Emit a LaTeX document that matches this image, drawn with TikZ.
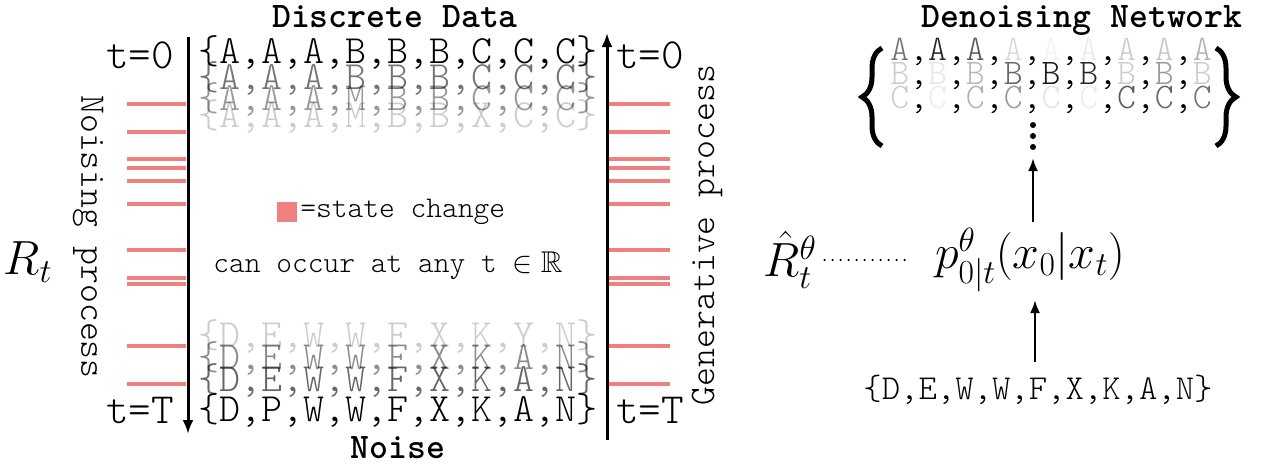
\RequirePackage{fix-cm}
\documentclass[tikz,border=0pt]{standalone}
\usepackage{amsmath}
\usepackage{amsfonts}
\usepackage{amssymb}
\usepackage{xcolor}
\usepackage{fontspec}
\usepackage{tikz}
\usetikzlibrary{positioning,arrows.meta,decorations.pathreplacing}
\newfontfamily\monolight{lmmonolt10-regular.otf}
\newfontfamily\monobold{lmmonolt10-bold.otf}
\definecolor{changecol}{HTML}{F08080}
\newcommand{\tone}[2]{\textcolor{black!#1}{#2}}
\tikzset{
    title/.style={font=\monobold\fontsize{36}{36}\selectfont, inner sep=0pt},
    setrow/.style={font=\monolight\fontsize{40}{40}\selectfont, inner sep=0pt},
    tlabel/.style={font=\monolight\fontsize{43}{43}\selectfont, inner sep=0pt},
    side/.style={font=\monolight\fontsize{36}{36}\selectfont, inner sep=0pt},
    note/.style={font=\monolight\fontsize{30}{30}\selectfont, inner sep=0pt},
    netrow/.style={font=\monolight\fontsize{36}{36}\selectfont, inner sep=0pt},
    bigmath/.style={font=\fontsize{48}{48}\selectfont, inner sep=0pt},
    axis/.style={line width=3pt, -{Latex[length=14pt,width=11pt]}},
    arrow/.style={line width=2.5pt, -{Latex[length=13pt,width=10pt]}},
    change/.style={draw=changecol, line width=4pt},
    brace/.style={line width=5pt, decorate, decoration={brace, amplitude=20pt}}
}

\begin{document}
\begin{tikzpicture}[x=1pt,y=-1pt]
    \useasboundingbox (0,0) rectangle (1271,464);

    % left part: data and noise
    \node[title, anchor=base] (data) at (395,27) {Discrete Data};
    \node[title, anchor=base] (noise) at (398,458) {Noise};

    \coordinate (ltop) at (188,37);
    \coordinate (lbot) at (188,434);
    \coordinate (rbot) at (607,440);
    \coordinate (rtop) at (607,33);
    \draw[axis] (ltop) -- (lbot);
    \draw[axis] (rbot) -- (rtop);

    \foreach \y in {104,132,159,168,181,204,250,278,284,346,384}{
        \draw[change] (127,\y) -- (186,\y);
        \draw[change] (609,\y) -- (670,\y);
    }

    \node[tlabel] (t0l) at (140,55) {t=0};
    \node[tlabel] (t0r) at (650,55) {t=0};
    \node[tlabel] (tTl) at (140,410) {t=T};
    \node[tlabel] (tTr) at (650,410) {t=T};

    \node[setrow, opacity=.2] (x0d) at (398,116) {\{A,A,A,M,B,B,X,C,C\}};
    \node[setrow, opacity=.4] (x0c) at (398,99) {\{A,A,A,M,B,B,C,C,C\}};
    \node[setrow, opacity=.55] (x0b) at (398,78) {\{A,A,A,B,B,B,C,C,C\}};
    \node[setrow] (x0) at (398,52) {\{A,A,A,B,B,B,C,C,C\}};

    \node[setrow, opacity=.2] (xTd) at (398,336) {\{D,E,W,W,F,X,K,Y,N\}};
    \node[setrow, opacity=.45] (xTc) at (398,358) {\{D,E,W,W,F,X,K,A,N\}};
    \node[setrow, opacity=.6] (xTb) at (398,380) {\{D,E,W,W,F,X,K,A,N\}};
    \node[setrow] (xT) at (398,410) {\{D,P,W,W,F,X,K,A,N\}};

    \node[side, rotate=-90] (noising) at (88,237) {Noising process};
    \node[side, rotate=90] (generative) at (707,235) {Generative process};
    \node[bigmath] (Rt) at (28,262) {$R_t$};

    \node[fill=changecol, minimum size=20pt, inner sep=0pt] (key) at (287,212) {};
    \node[note, right=3pt of key] (keytext) {=state change};
    \node[note] (anyt) at (388,266) {can occur at any t $\in\mathbb{R}$};

    % right part: denoising network
    \node[title, anchor=base] (net) at (1082,27) {Denoising Network};
    \node[netrow] (rowa) at (1051,52) {\tone{55}{A},\tone{85}{A},\tone{65}{A},\tone{15}{A},\tone{5}{A},\tone{8}{A},\tone{20}{A},\tone{22}{A},\tone{30}{A}};
    \node[netrow] (rowb) at (1051,76) {\tone{20}{B},\tone{10}{B},\tone{28}{B},\tone{60}{B},\tone{90}{B},\tone{85}{B},\tone{20}{B},\tone{40}{B},\tone{20}{B}};
    \node[netrow] (rowc) at (1051,100) {\tone{20}{C},\tone{8}{C},\tone{30}{C},\tone{40}{C},\tone{10}{C},\tone{8}{C},\tone{65}{C},\tone{60}{C},\tone{55}{C}};
    \draw[brace] (882,146) -- (882,48);
    \draw[brace] (1216,48) -- (1216,146);
    \foreach \y in {125,136,147}
        \fill (1033,\y) circle (3);
    \coordinate (dots) at (1033,158);

    \node[bigmath] (Rhat) at (790,260) {$\hat{R}^{\theta}_t$};
    \node[bigmath] (p) at (1030,260) {$p^{\theta}_{0|t}(x_0|x_t)$};
    \node[font=\monolight\fontsize{35}{35}\selectfont, inner sep=0pt] (xt) at (1038,390) {\{D,E,W,W,F,X,K,A,N\}};

    \draw[line width=2.5pt, line cap=round, dash pattern=on 0pt off 8pt, shorten <=8pt, shorten >=30pt] (Rhat) -- (p);
    \draw[arrow] (dots |- 0,222) -- (dots);
    \draw[arrow] (1035,362) -- (1035,300);
\end{tikzpicture}
\end{document}
